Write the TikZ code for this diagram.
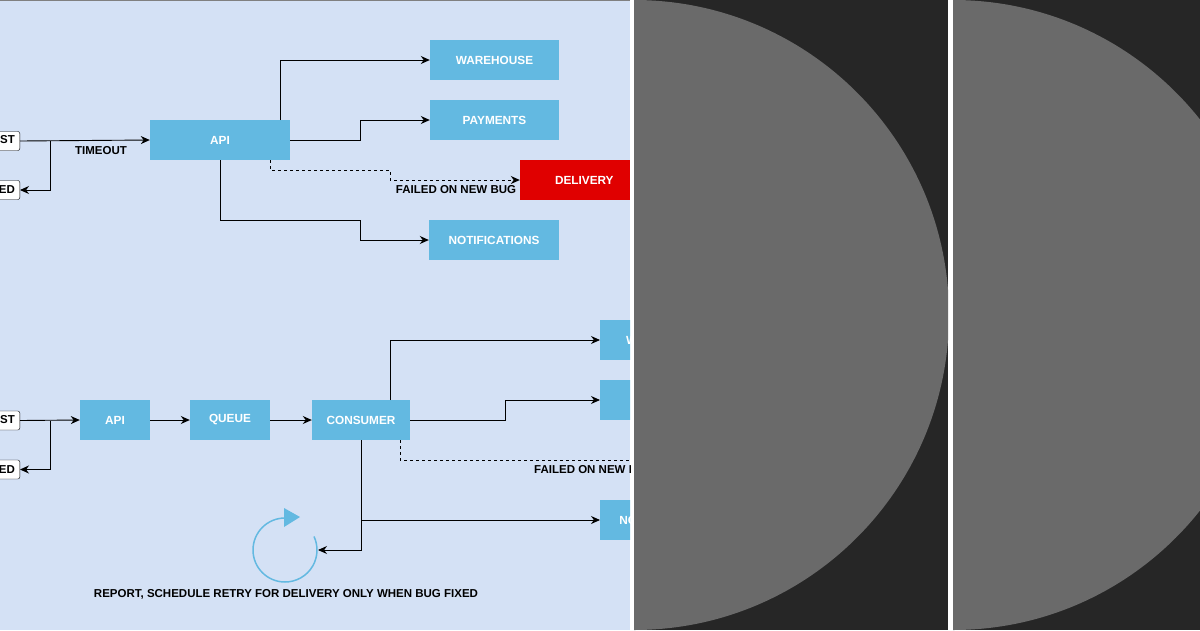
\documentclass[tikz,border=0pt]{standalone}
\usepackage{fontspec}
\setmainfont{Liberation Sans}
\usetikzlibrary{arrows.meta}
\definecolor{bgb}{HTML}{D4E1F5}
\definecolor{boxb}{HTML}{63B9E1}
\definecolor{darkp}{HTML}{262626}
\definecolor{greyc}{HTML}{6A6A6A}
\begin{document}
\begin{tikzpicture}[x=1pt,y=-1pt,
  box/.style={fill=boxb,draw=none,text=white,font=\bfseries\fontsize{11.8}{13}\selectfont,minimum height=40pt,inner sep=0pt},
  rbox/.style={fill=white,draw=black,rounded corners=2pt,font=\bfseries\fontsize{11.5}{13}\selectfont,minimum height=19pt,inner ysep=0pt,inner xsep=5pt},
  lab/.style={font=\bfseries\fontsize{11.5}{13}\selectfont,inner sep=0pt},
  con/.style={draw=black,line width=0.9pt,-{Stealth[length=9pt,width=8pt]}},
  dcon/.style={con,dashed}]
\useasboundingbox (0,0) rectangle (1200,630);
\fill[white] (0,0) rectangle (1200,630);
\fill[darkp] (634,0) rectangle (948,630);
\fill[darkp] (953,0) rectangle (1200,630);
\begin{scope}
\clip (634,0) rectangle (948,630);
\fill[greyc] (634,315) circle (315);
\end{scope}
\begin{scope}
\clip (953,0) rectangle (1200,630);
\fill[greyc] (953,315) circle (315);
\end{scope}
\begin{scope}
\clip (0,0) rectangle (630,630);
\fill[bgb] (0,0) rectangle (630,630);
\draw[gray,line width=1pt] (0,0.5) -- (630,0.5);
% top
\node[rbox,anchor=east] (req1) at (20,141) {REQUEST};
\node[rbox,anchor=east] (fail1) at (20,190) {FAILED};
\node[box,minimum width=140pt] (api1) at (220,140) {API};
\node[box,minimum width=129pt] (wh1) at (494.5,60) {WAREHOUSE};
\node[box,minimum width=129pt] (pay1) at (494.5,120) {PAYMENTS};
\node[box,minimum width=110pt,fill=red!88!black,text width=110pt,align=left,inner xsep=0pt] (del1) at (575,180) {\hspace*{35pt}DELIVERY};
\node[box,minimum width=130pt] (not1) at (494,240) {NOTIFICATIONS};
\draw[con] (req1.east) -- (api1.west);
\node[lab] at (101,151) {TIMEOUT};
\draw[con] (50,141) -- (50,190) -- (fail1.east);
\draw[con] (280,120) -- (280,60) -- (wh1.west);
\draw[con] (api1.east) -- (360,140) -- (360,120) -- (pay1.west);
\draw[dcon] (270,160) -- (270,170) -- (390,170) -- (390,180) -- (del1.west);
\node[lab] at (456,190) {FAILED ON NEW BUG};
\draw[con] (api1.south) -- (220,220) -- (360,220) -- (360,240) -- (not1.west);
% bottom
\node[rbox,anchor=east] (req2) at (20,420.5) {REQUEST};
\node[rbox,anchor=east] (fail2) at (20,469.5) {FAILED};
\node[box,minimum width=70pt] (api2) at (115,420) {API};
\node[box,minimum width=80pt] (q2) at (230,420) {QUEUE};
\node[box,minimum width=98pt] (c2) at (361,420) {CONSUMER};
\node[box,minimum width=129pt,anchor=west] (wh2) at (600,340) {WAREHOUSE};
\node[box,minimum width=129pt,anchor=west] (pay2) at (600,400) {PAYMENTS};
\node[box,minimum width=129pt,anchor=west] (not2) at (600,520) {NOTIFICATIONS};
\draw[con] (req2.east) -- (api2.west);
\draw[con] (50,420.5) -- (50,469.5) -- (fail2.east);
\draw[con] (api2) -- (q2);
\draw[con] (q2) -- (c2);
\draw[con] (390,400) -- (390,340) -- (wh2.west);
\draw[con] (c2.east) -- (505,420) -- (505,400) -- (pay2.west);
\draw[dcon] (400,440) -- (400,460) -- (640,460);
\node[lab,anchor=west] at (534,470) {FAILED ON NEW BUG};
\coordinate (rep) at (318,550);
\draw[con] (c2.south) -- (361,550) -- (rep);
\draw[con] (361,520) -- (not2.west);
\draw[boxb,line width=1.5pt] (285,518) arc[start angle=-90,end angle=-385,radius=32];
\fill[boxb] (284,508) -- (300,517) -- (284,527) -- cycle;
\node[lab] at (286,594) {REPORT, SCHEDULE RETRY FOR DELIVERY ONLY WHEN BUG FIXED};
\end{scope}
\end{tikzpicture}
\end{document}
